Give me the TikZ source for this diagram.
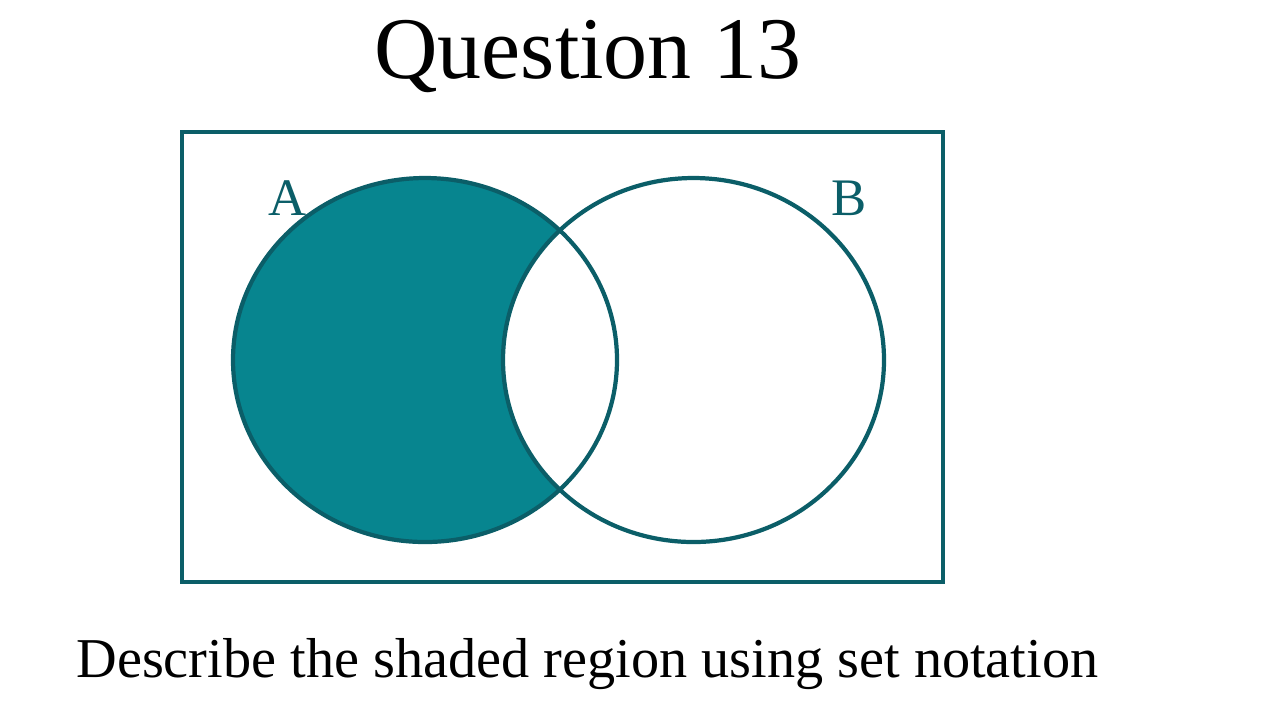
\documentclass[tikz,border=0pt]{standalone}
\usepackage{fontspec}
\setmainfont{Liberation Serif}
\definecolor{tfill}{HTML}{07858F}
\definecolor{tline}{HTML}{0B5E68}
\begin{document}
\begin{tikzpicture}[x=0.01cm,y=-0.01cm,
  lab/.style={text=tline,font=\fontsize{15}{18}\selectfont}]
\useasboundingbox (0,0) rectangle (1280,720);
\draw[tline,line width=1.2pt] (182,132) rectangle (943,582);
\begin{scope}
  \clip (693.5,360) ellipse [x radius=190.5,y radius=182] (0,0) rectangle (1280,720);
\end{scope}
\begin{scope}[even odd rule]
  \clip (693.5,360) ellipse [x radius=190.5,y radius=182] (0,0) rectangle (1280,720);
  \fill[tfill] (425,360) ellipse [x radius=192,y radius=182];
\end{scope}
\draw[tline,line width=1.2pt] (425,360) ellipse [x radius=192,y radius=182];
\draw[tline,line width=1.2pt] (693.5,360) ellipse [x radius=190.5,y radius=182];
\node[lab] (A) at (288,198) {A};
\node[lab] (B) at (849,198) {B};
\node[font=\fontsize{25}{30}\selectfont] (t) at (588,57) {Question 13};
\node[font=\fontsize{16}{20}\selectfont,anchor=west] (q) at (64,664) {Describe the shaded region using set notation};
\end{tikzpicture}
\end{document}
